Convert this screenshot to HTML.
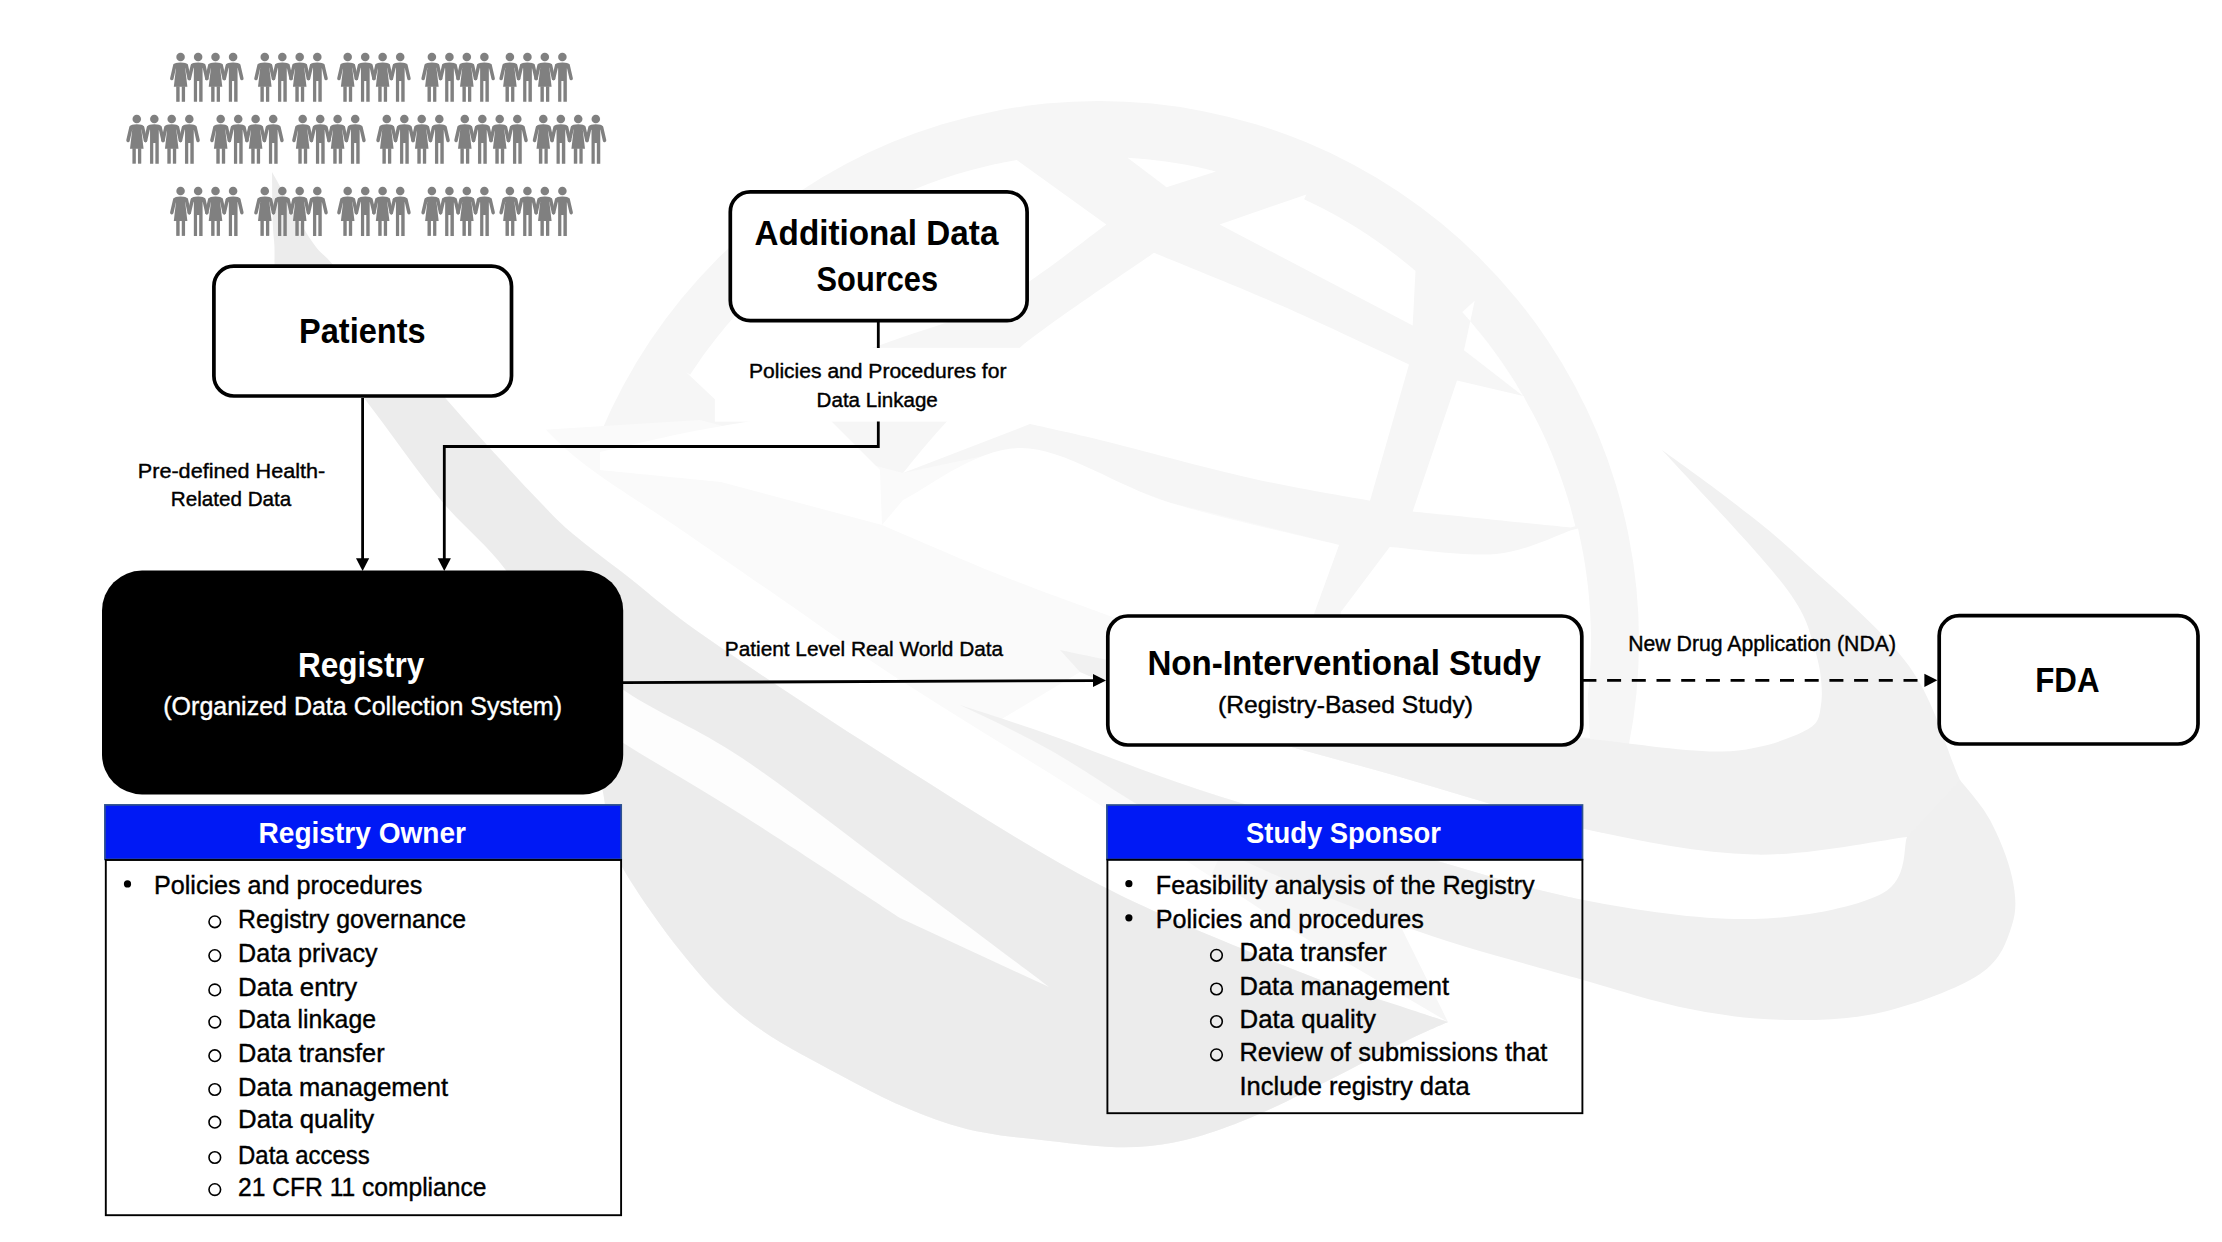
<!DOCTYPE html>
<html><head><meta charset="utf-8"><style>
html,body{margin:0;padding:0;background:#fff;}
svg{display:block;}
text{font-family:"Liberation Sans",sans-serif;}
</style></head><body>
<svg width="2222" height="1242" viewBox="0 0 2222 1242">
<defs>
<g id="grp" fill="#808080" stroke="#808080" stroke-linecap="round">
<circle cx="325" cy="243" r="88"/>
<path d="M180,400 Q205,355 325,355 Q445,355 470,400 L420,470 L465,860 L185,860 L230,470 Z"/>
<rect x="235" y="850" width="70" height="320"/>
<rect x="350" y="850" width="67" height="320"/>
<path d="M205,420 L143,690" stroke-width="72"/>
<path d="M445,420 L505,690" stroke-width="72"/>
<circle cx="688" cy="243" r="88"/>
<path d="M543,400 Q568,355 688,355 Q808,355 833,400 L780,480 L780,1170 L710,1170 L710,740 L666,740 L666,1170 L600,1170 L600,480 Z"/>
<path d="M568,420 L506,690" stroke-width="72"/>
<path d="M808,420 L870,690" stroke-width="72"/>
<circle cx="1048" cy="243" r="88"/>
<path d="M903,400 Q928,355 1048,355 Q1168,355 1193,400 L1143,470 L1188,860 L908,860 L953,470 Z"/>
<rect x="958" y="850" width="70" height="320"/>
<rect x="1073" y="850" width="67" height="320"/>
<path d="M928,420 L866,690" stroke-width="72"/>
<path d="M1168,420 L1228,690" stroke-width="72"/>
<circle cx="1412" cy="243" r="88"/>
<path d="M1267,400 Q1292,355 1412,355 Q1532,355 1557,400 L1504,480 L1504,1170 L1434,1170 L1434,740 L1390,740 L1390,1170 L1324,1170 L1324,480 Z"/>
<path d="M1292,420 L1230,690" stroke-width="72"/>
<path d="M1532,420 L1594,690" stroke-width="72"/>
</g>
<marker id="ah" viewBox="0 0 10 10" refX="10" refY="5" markerWidth="10" markerHeight="10" markerUnits="userSpaceOnUse" orient="auto"></marker>
</defs>
<rect width="2222" height="1242" fill="#fff"/>
<circle cx="1099" cy="641" r="540" fill="#f6f6f6"/>
<path fill="#fafafa" d="M540.0,430.0 L700.0,420.0 L903.0,473.0 L1021.0,448.0 L1170.0,502.7 L1339.0,545.0 L1314.7,611.7 L1290.0,700.0 L1200.0,900.0 L500.0,900.0 Z"/>
<path fill="#ffffff" d="M1127.6,157.8 C1129.7,158.0 1136.1,158.4 1140.3,158.8 C1144.6,159.1 1148.8,159.6 1153.1,160.0 C1157.3,160.5 1161.5,161.0 1165.8,161.6 C1170.0,162.2 1174.2,162.9 1178.4,163.6 C1182.6,164.3 1186.8,165.0 1191.0,165.8 C1195.2,166.6 1199.4,167.5 1203.6,168.4 C1207.7,169.3 1213.9,170.9 1216.0,171.4 L1166.5,187.3 Z"/>
<path fill="#ffffff" d="M1219.6,224.5 L1306.4,194.4 L1304.1,199.3 C1306.3,200.4 1313.0,203.5 1317.4,205.7 C1321.8,207.9 1326.2,210.2 1330.5,212.5 C1334.8,214.9 1339.1,217.3 1343.4,219.7 C1347.6,222.2 1351.8,224.7 1356.0,227.3 C1360.2,229.9 1364.3,232.6 1368.4,235.3 C1372.5,238.0 1376.6,240.8 1380.6,243.7 C1384.6,246.5 1388.6,249.4 1392.5,252.4 C1396.4,255.3 1400.3,258.4 1404.1,261.4 C1408.0,264.5 1413.6,269.3 1415.5,270.8 L1412.7,325.5 Z"/>
<path fill="#ffffff" d="M1154.0,252.8 C1175.0,261.5 1237.5,286.4 1280.0,305.0 C1322.5,323.6 1387.5,354.5 1409.0,364.4 L1370.0,500.8 L1370.0,500.8 C1350.0,497.0 1295.0,488.1 1250.0,478.0 C1205.0,467.9 1136.7,449.0 1100.0,440.0 C1063.3,431.0 1041.7,426.7 1030.0,424.0 L903.0,473.0 L903.0,473.0 C910.3,464.4 926.9,442.8 946.6,421.7 C966.3,400.6 986.4,374.8 1021.0,346.7 C1055.6,318.6 1131.8,268.4 1154.0,252.8 Z"/>
<path fill="#ffffff" d="M1474.7,300.7 L1462.2,312.1 C1464.5,314.7 1471.4,322.5 1475.9,327.9 C1480.4,333.3 1484.7,338.7 1489.0,344.3 C1493.2,349.8 1497.3,355.5 1501.3,361.2 C1505.3,367.0 1509.1,372.8 1512.9,378.7 C1516.6,384.6 1521.9,393.6 1523.7,396.6 L1464.0,350.3 Z"/>
<path fill="#ffffff" d="M1457.0,380.4 L1524.3,396.3 L1523.7,396.6 C1525.3,399.6 1530.2,408.3 1533.3,414.2 C1536.4,420.1 1539.4,426.0 1542.2,432.1 C1545.1,438.1 1547.8,444.2 1550.4,450.3 C1553.0,456.5 1555.4,462.6 1557.8,468.9 C1560.1,475.1 1562.3,481.4 1564.4,487.7 C1566.5,494.1 1568.5,500.4 1570.3,506.8 C1572.1,513.3 1574.5,523.0 1575.4,526.2 L1570.3,527.4 C1544.0,524.7 1439.0,514.1 1412.7,511.4 Z"/>
<path fill="#ffffff" d="M1106.3,224.5 C1088.6,237.1 1034.4,281.1 1000.0,300.0 C965.6,318.9 933.3,326.0 900.0,338.0 C866.7,350.0 830.9,361.8 800.0,372.0 C769.1,382.2 728.8,394.5 714.6,399.0 L686.0,372.0 L690.1,374.7 C693.0,370.4 701.6,357.6 707.8,349.3 C713.9,341.0 720.4,333.0 727.0,325.1 C733.7,317.2 740.6,309.6 747.8,302.2 C755.0,294.8 762.4,287.6 770.0,280.6 C777.6,273.7 785.4,266.9 793.5,260.5 C801.5,254.0 809.7,247.8 818.2,241.9 C826.6,236.0 835.2,230.3 844.0,224.9 C852.8,219.5 861.8,214.4 870.9,209.6 C880.0,204.8 889.3,200.3 898.7,196.0 C908.1,191.8 917.6,187.9 927.2,184.2 C936.9,180.6 946.7,177.3 956.5,174.3 C966.4,171.3 976.3,168.6 986.4,166.2 C996.4,163.8 1011.6,161.0 1016.7,160.0 Z"/>
<path fill="#ffffff" d="M903.0,500.0 C922.7,491.3 976.5,447.6 1021.0,448.0 C1065.5,448.4 1117.0,486.5 1170.0,502.7 C1223.0,518.9 1310.8,538.0 1339.0,545.0 L1314.7,611.7 C1310.6,623.1 1294.1,668.6 1290.0,680.0 L1107.0,615.0 C1089.2,608.3 1037.5,590.0 1000.0,575.0 C962.5,560.0 901.7,533.3 882.0,525.0 Z"/>
<path fill="#ffffff" d="M1389.7,547.0 C1407.4,548.2 1465.6,556.8 1496.0,554.0 C1526.4,551.2 1559.3,534.0 1572.0,530.0 L1578.0,528.6 C1578.8,532.6 1581.5,544.4 1583.0,552.4 C1584.4,560.4 1585.7,568.4 1586.7,576.5 C1587.8,584.5 1588.7,592.6 1589.3,600.7 C1590.0,608.8 1590.5,616.9 1590.7,625.0 C1591.0,633.1 1591.1,641.2 1590.9,649.3 C1590.8,657.4 1590.5,665.5 1589.9,673.6 C1589.4,681.7 1588.1,693.8 1587.7,697.9 L1590.0,738.0 C1566.7,736.7 1493.3,737.7 1450.0,730.0 C1406.7,722.3 1350.0,698.3 1330.0,692.0 L1341.0,611.7 Z"/>
<path fill="#ffffff" d="M600.0,452.0 C616.7,448.3 663.3,437.0 700.0,430.0 C736.7,423.0 800.0,413.3 820.0,410.0 L880.0,470.0 C880.3,479.2 881.7,515.8 882.0,525.0 L721.0,482.0 C700.8,480.0 620.2,472.0 600.0,470.0 Z"/>
<path fill="#ffffff" d="M272.0,172.0 C278.5,183.3 300.5,224.2 311.0,240.0 C321.5,255.8 320.2,249.5 335.0,267.0 C349.8,284.5 377.2,318.2 400.0,345.0 C422.8,371.8 448.2,401.6 471.5,427.8 C494.8,454.0 523.1,484.3 540.0,502.0 C556.9,519.7 558.5,521.7 573.0,534.0 C587.5,546.3 604.2,558.3 627.0,576.0 C649.8,593.7 664.5,608.5 710.0,640.0 C755.5,671.5 835.0,724.2 900.0,765.0 C965.0,805.8 1033.3,850.5 1100.0,885.0 C1166.7,919.5 1242.0,949.2 1300.0,972.0 C1358.0,994.8 1423.3,1013.7 1448.0,1022.0 L1300.0,935.0 C1266.7,913.3 1166.7,847.5 1100.0,805.0 C1033.3,762.5 953.3,714.5 900.0,680.0 C846.7,645.5 816.7,623.2 780.0,598.0 C743.3,572.8 713.5,552.0 680.0,529.0 C646.5,506.0 605.7,481.5 579.0,460.0 C552.3,438.5 543.2,426.7 520.0,400.0 C496.8,373.3 453.3,316.7 440.0,300.0 Z"/>
<path fill="#ffffff" d="M272.0,172.0 C272.3,183.3 271.8,218.7 274.0,240.0 C276.2,261.3 270.0,273.7 285.0,300.0 C300.0,326.3 338.2,364.8 364.0,398.0 C389.8,431.2 416.5,470.5 440.0,499.0 C463.5,527.5 485.0,542.2 505.0,569.0 C525.0,595.8 544.2,624.8 560.0,660.0 C575.8,695.2 589.8,745.8 600.0,780.0 C610.2,814.2 600.3,828.3 621.0,865.0 C641.7,901.7 687.5,965.0 724.0,1000.0 C760.5,1035.0 802.5,1054.3 840.0,1075.0 C877.5,1095.7 914.0,1113.0 949.0,1124.0 C984.0,1135.0 1016.5,1137.3 1050.0,1141.0 C1083.5,1144.7 1116.7,1149.8 1150.0,1146.0 C1183.3,1142.2 1208.3,1135.0 1250.0,1118.0 C1291.7,1101.0 1367.0,1060.0 1400.0,1044.0 C1433.0,1028.0 1440.0,1025.7 1448.0,1022.0 L1400.0,925.0 C1430.5,934.2 1534.7,966.0 1583.0,980.0 C1631.3,994.0 1656.2,1002.3 1690.0,1009.0 C1723.8,1015.7 1753.8,1019.5 1786.0,1020.0 C1818.2,1020.5 1850.7,1019.7 1883.0,1012.0 C1915.3,1004.3 1958.5,988.5 1980.0,974.0 C2001.5,959.5 2006.7,941.2 2012.0,925.0 C2017.3,908.8 2015.7,894.5 2012.0,877.0 C2008.3,859.5 1998.7,836.2 1990.0,820.0 C1981.3,803.8 1973.5,805.7 1960.0,780.0 C1946.5,754.3 1935.8,703.2 1909.0,666.0 C1882.2,628.8 1828.8,584.7 1799.0,557.0 C1769.2,529.3 1752.8,517.8 1730.0,500.0 C1707.2,482.2 1673.3,458.3 1662.0,450.0 L2222.0,450.0 L2222.0,1242.0 L0.0,1242.0 L0.0,174.0 Z"/>
<path fill="#ffffff" d="M1907.0,837.0 C1881.5,839.9 1807.9,856.0 1754.0,854.6 C1700.1,853.2 1642.6,841.7 1583.6,828.8 C1524.6,815.9 1463.9,795.1 1400.0,777.0 C1336.1,758.9 1253.3,737.5 1200.0,720.0 C1146.7,702.5 1100.0,680.0 1080.0,672.0 L1000.0,720.0 C1033.3,731.7 1133.3,768.3 1200.0,790.0 C1266.7,811.7 1336.1,831.7 1400.0,850.0 C1463.9,868.3 1524.6,888.5 1583.6,900.0 C1642.6,911.5 1704.1,920.2 1754.0,919.0 C1803.9,917.8 1861.5,897.3 1883.0,893.0 Z"/>
<path fill="#f1f1f1" d="M1662.0,450.0 C1673.3,458.3 1707.2,482.2 1730.0,500.0 C1752.8,517.8 1769.2,529.3 1799.0,557.0 C1828.8,584.7 1882.2,628.8 1909.0,666.0 C1935.8,703.2 1946.5,751.0 1960.0,780.0 C1973.5,809.0 1985.0,830.0 1990.0,840.0 L1907.0,837.0 C1881.5,839.9 1807.9,856.0 1754.0,854.6 C1700.1,853.2 1642.6,841.7 1583.6,828.8 C1524.6,815.9 1463.9,795.1 1400.0,777.0 C1336.1,758.9 1253.3,737.5 1200.0,720.0 C1146.7,702.5 1100.0,680.0 1080.0,672.0 L1060.0,650.0 C1100.0,658.3 1235.0,687.0 1300.0,700.0 C1365.0,713.0 1402.7,721.6 1450.0,728.0 C1497.3,734.4 1538.3,734.7 1583.6,738.6 C1628.9,742.5 1685.5,752.6 1722.0,751.5 C1758.5,750.4 1786.1,739.8 1802.6,732.0 C1819.1,724.2 1818.9,718.7 1821.0,705.0 C1823.1,691.3 1821.3,670.2 1815.0,650.0 C1808.7,629.8 1808.5,617.3 1783.0,584.0 C1757.5,550.7 1682.2,472.3 1662.0,450.0 Z"/>
<path fill="#f0f0f0" d="M1907.0,837.0 C1903.0,846.3 1908.5,879.3 1883.0,893.0 C1857.5,906.7 1803.9,917.8 1754.0,919.0 C1704.1,920.2 1642.6,911.5 1583.6,900.0 C1524.6,888.5 1463.9,868.3 1400.0,850.0 C1336.1,831.7 1258.3,809.2 1200.0,790.0 C1141.7,770.8 1090.0,749.2 1050.0,735.0 C1010.0,720.8 975.0,710.0 960.0,705.0 L960.0,705.0 C975.0,712.5 1010.0,727.5 1050.0,750.0 C1090.0,772.5 1141.7,810.8 1200.0,840.0 C1258.3,869.2 1336.2,901.7 1400.0,925.0 C1463.8,948.3 1534.7,966.0 1583.0,980.0 C1631.3,994.0 1656.2,1002.3 1690.0,1009.0 C1723.8,1015.7 1753.8,1019.5 1786.0,1020.0 C1818.2,1020.5 1850.7,1019.7 1883.0,1012.0 C1915.3,1004.3 1958.5,988.5 1980.0,974.0 C2001.5,959.5 2006.7,941.2 2012.0,925.0 C2017.3,908.8 2015.7,894.5 2012.0,877.0 C2008.3,859.5 1998.7,836.2 1990.0,820.0 C1981.3,803.8 1965.0,786.7 1960.0,780.0 Z"/>
<path fill="#ececec" d="M272.0,172.0 C272.3,183.3 271.8,218.7 274.0,240.0 C276.2,261.3 270.0,273.7 285.0,300.0 C300.0,326.3 338.2,364.8 364.0,398.0 C389.8,431.2 416.5,470.5 440.0,499.0 C463.5,527.5 485.0,542.2 505.0,569.0 C525.0,595.8 544.2,624.8 560.0,660.0 C575.8,695.2 589.8,745.8 600.0,780.0 C610.2,814.2 600.3,828.3 621.0,865.0 C641.7,901.7 687.5,965.0 724.0,1000.0 C760.5,1035.0 802.5,1054.3 840.0,1075.0 C877.5,1095.7 914.0,1113.0 949.0,1124.0 C984.0,1135.0 1016.5,1137.3 1050.0,1141.0 C1083.5,1144.7 1116.7,1149.8 1150.0,1146.0 C1183.3,1142.2 1208.3,1135.0 1250.0,1118.0 C1291.7,1101.0 1367.0,1060.0 1400.0,1044.0 C1433.0,1028.0 1440.0,1025.7 1448.0,1022.0 L1448.0,1022.0 C1440.0,1019.3 1424.7,1014.3 1400.0,1006.0 C1375.3,997.7 1350.0,992.2 1300.0,972.0 C1250.0,951.8 1166.7,919.5 1100.0,885.0 C1033.3,850.5 965.0,805.8 900.0,765.0 C835.0,724.2 755.5,671.5 710.0,640.0 C664.5,608.5 649.8,593.7 627.0,576.0 C604.2,558.3 587.5,546.3 573.0,534.0 C558.5,521.7 556.9,519.7 540.0,502.0 C523.1,484.3 494.8,454.0 471.5,427.8 C448.2,401.6 422.8,371.8 400.0,345.0 C377.2,318.2 349.8,284.5 335.0,267.0 C320.2,249.5 321.5,255.8 311.0,240.0 C300.5,224.2 278.5,183.3 272.0,172.0 Z"/>
<path fill="#fdfdfd" d="M540.0,620.0 C554.2,631.8 591.3,668.0 625.0,691.0 C658.7,714.0 696.2,727.3 742.0,758.0 C787.8,788.7 848.8,836.8 900.0,875.0 C951.2,913.2 1024.2,968.3 1049.0,987.0 L900.0,918.0 C873.7,900.8 787.8,844.0 742.0,815.0 C696.2,786.0 655.3,763.2 625.0,744.0 C594.7,724.8 570.8,707.3 560.0,700.0 Z"/>
<g id="people" stroke="none">
<use href="#grp" transform="translate(164.88,45.26) scale(0.04831)"/><use href="#grp" transform="translate(249.08,45.26) scale(0.04831)"/><use href="#grp" transform="translate(331.98,45.26) scale(0.04831)"/><use href="#grp" transform="translate(416.18,45.26) scale(0.04831)"/><use href="#grp" transform="translate(494.18,45.26) scale(0.04831)"/><use href="#grp" transform="translate(121.08,107.16) scale(0.04831)"/><use href="#grp" transform="translate(204.98,107.16) scale(0.04831)"/><use href="#grp" transform="translate(286.98,107.16) scale(0.04831)"/><use href="#grp" transform="translate(371.08,107.16) scale(0.04831)"/><use href="#grp" transform="translate(449.08,107.16) scale(0.04831)"/><use href="#grp" transform="translate(527.58,107.16) scale(0.04831)"/><use href="#grp" transform="translate(164.88,179.36) scale(0.04831)"/><use href="#grp" transform="translate(249.08,179.36) scale(0.04831)"/><use href="#grp" transform="translate(331.98,179.36) scale(0.04831)"/><use href="#grp" transform="translate(416.18,179.36) scale(0.04831)"/><use href="#grp" transform="translate(494.18,179.36) scale(0.04831)"/>
</g>
<!-- boxes -->
<rect x="213.9" y="266.2" width="297.6" height="129.8" rx="20" fill="#fff" stroke="#000" stroke-width="3.7"/>
<rect x="730.3" y="191.9" width="296.8" height="128.7" rx="20" fill="#fff" stroke="#000" stroke-width="3.7"/>
<rect x="102" y="570.6" width="521.2" height="223.8" rx="40" fill="#000"/>
<rect x="1107.8" y="616" width="474" height="129" rx="20" fill="#fff" stroke="#000" stroke-width="3.7"/>
<rect x="1939.2" y="615.7" width="258.8" height="128.3" rx="20" fill="#fff" stroke="#000" stroke-width="3.7"/>
<!-- label bg -->
<rect x="714.9" y="347.9" width="325.7" height="73.7" fill="#fff"/>
<!-- lines -->
<g stroke="#000" stroke-width="2.8" fill="none">
<path d="M362.6,398 L362.6,559"/>
<path d="M878.3,322 L878.3,347.9 M878.3,421.6 L878.3,446.5 L444.3,446.5 L444.3,559"/>
<path d="M623,682.6 L1094,680.6"/>
<path d="M1582.4,680.4 L1925,680.4" stroke-dasharray="14,10.7"/>
</g>
<g fill="#000">
<path d="M356,558.2 L369.2,558.2 L362.6,571 Z"/>
<path d="M437.7,558.2 L450.9,558.2 L444.3,571 Z"/>
<path d="M1093,674 L1106,680.5 L1093,687 Z"/>
<path d="M1924.4,673.7 L1937.4,680.3 L1924.4,686.9 Z"/>
</g>
<!-- owner tables -->
<rect x="104.9" y="804.9" width="516.3" height="54.5" fill="#0019F5" stroke="#2F528F" stroke-width="1.7"/>
<rect x="105.8" y="860" width="515.3" height="355.2" fill="#fff" stroke="#000" stroke-width="1.9"/>
<rect x="1106.9" y="805" width="475.6" height="54.5" fill="#0019F5" stroke="#2F528F" stroke-width="1.7"/>
<rect x="1107.4" y="859.8" width="475" height="253.4" fill="none" stroke="#000" stroke-width="1.9"/>
<circle cx="127.5" cy="883.9" r="3.6"/><circle cx="214.8" cy="921.8" r="5.8" fill="none" stroke="#000" stroke-width="1.6"/><circle cx="214.8" cy="955.6" r="5.8" fill="none" stroke="#000" stroke-width="1.6"/><circle cx="214.8" cy="989.9" r="5.8" fill="none" stroke="#000" stroke-width="1.6"/><circle cx="214.8" cy="1022.1" r="5.8" fill="none" stroke="#000" stroke-width="1.6"/><circle cx="214.8" cy="1055.7" r="5.8" fill="none" stroke="#000" stroke-width="1.6"/><circle cx="214.8" cy="1089.5" r="5.8" fill="none" stroke="#000" stroke-width="1.6"/><circle cx="214.8" cy="1122.2" r="5.8" fill="none" stroke="#000" stroke-width="1.6"/><circle cx="214.8" cy="1157.5" r="5.8" fill="none" stroke="#000" stroke-width="1.6"/><circle cx="214.8" cy="1189.6" r="5.8" fill="none" stroke="#000" stroke-width="1.6"/><circle cx="1128.9" cy="883.7" r="3.6"/><circle cx="1128.9" cy="917.8" r="3.6"/><circle cx="1216.5" cy="955.3" r="5.8" fill="none" stroke="#000" stroke-width="1.6"/><circle cx="1216.5" cy="989.0" r="5.8" fill="none" stroke="#000" stroke-width="1.6"/><circle cx="1216.5" cy="1021.5" r="5.8" fill="none" stroke="#000" stroke-width="1.6"/><circle cx="1216.5" cy="1054.8" r="5.8" fill="none" stroke="#000" stroke-width="1.6"/>
<text x="299.0" y="342.8" font-size="35.4" font-weight="700" fill="#000" textLength="126.6" lengthAdjust="spacingAndGlyphs">Patients</text><text x="754.6" y="244.7" font-size="35.1" font-weight="700" fill="#000" textLength="243.8" lengthAdjust="spacingAndGlyphs">Additional Data</text><text x="816.6" y="290.9" font-size="35.1" font-weight="700" fill="#000" textLength="121.4" lengthAdjust="spacingAndGlyphs">Sources</text><text x="749.0" y="378.3" font-size="20.0" stroke="#000" stroke-width="0.4" fill="#000" textLength="257.4" lengthAdjust="spacingAndGlyphs">Policies and Procedures for</text><text x="816.6" y="406.5" font-size="20.0" stroke="#000" stroke-width="0.4" fill="#000" textLength="121.2" lengthAdjust="spacingAndGlyphs">Data Linkage</text><text x="137.8" y="477.9" font-size="20.9" stroke="#000" stroke-width="0.4" fill="#000" textLength="187.4" lengthAdjust="spacingAndGlyphs">Pre-defined Health-</text><text x="170.8" y="505.8" font-size="20.9" stroke="#000" stroke-width="0.4" fill="#000" textLength="120.4" lengthAdjust="spacingAndGlyphs">Related Data</text><text x="298.0" y="677.2" font-size="35.5" font-weight="700" fill="#fff" textLength="126.2" lengthAdjust="spacingAndGlyphs">Registry</text><text x="163.3" y="715.0" font-size="26.4" stroke="#fff" stroke-width="0.4" fill="#fff" textLength="398.7" lengthAdjust="spacingAndGlyphs">(Organized Data Collection System)</text><text x="258.5" y="842.9" font-size="29.6" font-weight="700" fill="#fff" textLength="207.5" lengthAdjust="spacingAndGlyphs">Registry Owner</text><text x="724.8" y="655.8" font-size="20.5" stroke="#000" stroke-width="0.4" fill="#000" textLength="278.4" lengthAdjust="spacingAndGlyphs">Patient Level Real World Data</text><text x="1147.4" y="674.8" font-size="35.7" font-weight="700" fill="#000" textLength="393.6" lengthAdjust="spacingAndGlyphs">Non-Interventional Study</text><text x="1218.0" y="712.5" font-size="23.7" stroke="#000" stroke-width="0.4" fill="#000" textLength="255.0" lengthAdjust="spacingAndGlyphs">(Registry-Based Study)</text><text x="1628.2" y="651.3" font-size="21.8" stroke="#000" stroke-width="0.4" fill="#000" textLength="267.8" lengthAdjust="spacingAndGlyphs">New Drug Application (NDA)</text><text x="2035.2" y="691.9" font-size="35.5" font-weight="700" fill="#000" textLength="64.3" lengthAdjust="spacingAndGlyphs">FDA</text><text x="1246.0" y="842.9" font-size="29.6" font-weight="700" fill="#fff" textLength="195.0" lengthAdjust="spacingAndGlyphs">Study Sponsor</text><text x="154.0" y="893.9" font-size="25.6" stroke="#000" stroke-width="0.4" fill="#000" textLength="268.3" lengthAdjust="spacingAndGlyphs">Policies and procedures</text><text x="238.1" y="927.8" font-size="25.6" stroke="#000" stroke-width="0.4" fill="#000" textLength="227.9" lengthAdjust="spacingAndGlyphs">Registry governance</text><text x="238.1" y="961.6" font-size="25.6" stroke="#000" stroke-width="0.4" fill="#000" textLength="139.4" lengthAdjust="spacingAndGlyphs">Data privacy</text><text x="238.1" y="995.9" font-size="25.6" stroke="#000" stroke-width="0.4" fill="#000" textLength="119.1" lengthAdjust="spacingAndGlyphs">Data entry</text><text x="238.1" y="1028.1" font-size="25.6" stroke="#000" stroke-width="0.4" fill="#000" textLength="137.9" lengthAdjust="spacingAndGlyphs">Data linkage</text><text x="238.1" y="1061.7" font-size="25.6" stroke="#000" stroke-width="0.4" fill="#000" textLength="146.5" lengthAdjust="spacingAndGlyphs">Data transfer</text><text x="238.1" y="1095.5" font-size="25.6" stroke="#000" stroke-width="0.4" fill="#000" textLength="210.0" lengthAdjust="spacingAndGlyphs">Data management</text><text x="238.1" y="1128.2" font-size="25.6" stroke="#000" stroke-width="0.4" fill="#000" textLength="136.1" lengthAdjust="spacingAndGlyphs">Data quality</text><text x="238.1" y="1163.5" font-size="25.6" stroke="#000" stroke-width="0.4" fill="#000" textLength="131.6" lengthAdjust="spacingAndGlyphs">Data access</text><text x="238.1" y="1195.6" font-size="25.6" stroke="#000" stroke-width="0.4" fill="#000" textLength="248.3" lengthAdjust="spacingAndGlyphs">21 CFR 11 compliance</text><text x="1155.8" y="893.7" font-size="25.6" stroke="#000" stroke-width="0.4" fill="#000" textLength="378.9" lengthAdjust="spacingAndGlyphs">Feasibility analysis of the Registry</text><text x="1155.8" y="927.8" font-size="25.6" stroke="#000" stroke-width="0.4" fill="#000" textLength="268.1" lengthAdjust="spacingAndGlyphs">Policies and procedures</text><text x="1239.5" y="961.3" font-size="25.6" stroke="#000" stroke-width="0.4" fill="#000" textLength="147.2" lengthAdjust="spacingAndGlyphs">Data transfer</text><text x="1239.5" y="995.0" font-size="25.6" stroke="#000" stroke-width="0.4" fill="#000" textLength="209.6" lengthAdjust="spacingAndGlyphs">Data management</text><text x="1239.5" y="1027.5" font-size="25.6" stroke="#000" stroke-width="0.4" fill="#000" textLength="136.3" lengthAdjust="spacingAndGlyphs">Data quality</text><text x="1239.5" y="1060.8" font-size="25.6" stroke="#000" stroke-width="0.4" fill="#000" textLength="307.9" lengthAdjust="spacingAndGlyphs">Review of submissions that</text><text x="1239.5" y="1095.3" font-size="25.6" stroke="#000" stroke-width="0.4" fill="#000" textLength="230.1" lengthAdjust="spacingAndGlyphs">Include registry data</text>
</svg>
</body></html>
